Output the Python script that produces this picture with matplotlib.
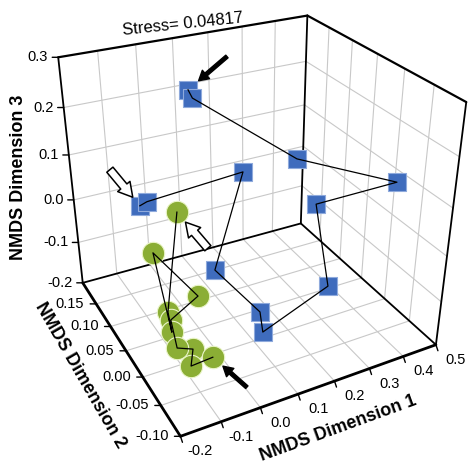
import numpy as np
import matplotlib
matplotlib.use('Agg')
import matplotlib.pyplot as plt

plt.rcParams['font.family'] = ['Liberation Sans', 'DejaVu Sans']

W, H = 474, 463

# Axis ranges and ticks
XL, YL, ZL = (-0.2, 0.5), (-0.1, 0.2), (-0.2, 0.3)
x_ticks = [-0.2, -0.1, 0.0, 0.1, 0.2, 0.3, 0.4, 0.5]
x_labels = ['-0.2', '-0.1', '0.0', '0.1', '0.2', '0.3', '0.4', '0.5']
y_ticks = [-0.10, -0.05, 0.00, 0.05, 0.10, 0.15]
y_labels = ['-0.10', '-0.05', '0.00', '0.05', '0.10', '0.15']
y_grid = [-0.10, -0.05, 0.00, 0.05, 0.10, 0.15, 0.20]
z_ticks = [-0.2, -0.1, 0.0, 0.1, 0.2, 0.3]
z_labels = ['-0.2', '-0.1', '0.0', '0.1', '0.2', '0.3']

# Blue series (squares), in path order: NMDS dims 1, 2, 3
blue_d1 = [0.061, 0.058, 0.274, 0.458, 0.291, 0.258, 0.085, 0.095, 0.027, 0.151, -0.092, -0.105]
blue_d2 = [0.120, 0.106, 0.046, -0.028, 0.015, -0.039, -0.034, -0.019, 0.029, 0.069, 0.084, 0.091]
blue_d3 = [0.248, 0.241, 0.125, 0.101, 0.051, -0.070, -0.135, -0.109, -0.049, 0.102, 0.073, 0.061]

# Green series (circles), in path order: NMDS dims 1, 2, 3
green_d1 = [-0.044, -0.099, -0.081, -0.116, -0.109, -0.030, -0.103, -0.115, -0.109, -0.022]
green_d2 = [-0.029, -0.027, -0.015, -0.009, 0.013, 0.019, 0.062, 0.005, 0.020, 0.077]
green_d3 = [-0.163, -0.170, -0.151, -0.146, -0.110, -0.083, -0.014, -0.127, -0.100, 0.043]

stress_text = 'Stress= 0.04817'

fig = plt.figure(figsize=(W/100, H/100), dpi=100)
ax = fig.add_axes([0.0284, 0.0478, 0.9743, 0.9975], projection='3d', computed_zorder=False)
ax.set_xlim(*XL); ax.set_ylim(*YL); ax.set_zlim(*ZL)
ax.set_axis_off()
ax.view_init(elev=29.4408, azim=-117.4939)
ax.set_proj_type('persp', focal_length=0.3669)
ax.set_box_aspect((1, 0.9628, 0.9421))
M = ax.get_proj()

x0, x1 = XL; y0, y1 = YL; z0, z1 = ZL

def seg(pa, pb, **kw):
    ax.plot([pa[0], pb[0]], [pa[1], pb[1]], [pa[2], pb[2]], **kw)

# grid on floor and back walls
gk = dict(color='#c8c8c8', lw=0.8, zorder=1)
for xv in x_ticks[1:-1]:
    seg((xv, y0, z0), (xv, y1, z0), **gk)
    seg((xv, y1, z0), (xv, y1, z1), **gk)
for yv in y_grid[1:-1]:
    seg((x0, yv, z0), (x1, yv, z0), **gk)
    seg((x1, yv, z0), (x1, yv, z1), **gk)
for zv in z_ticks[1:-1]:
    seg((x0, y1, zv), (x1, y1, zv), **gk)
    seg((x1, y1, zv), (x1, y0, zv), **gk)

# box edges
bk = dict(color='black', lw=1.3, zorder=1.5, solid_capstyle='round')
seg((x0, y1, z0), (x1, y1, z0), **bk); seg((x1, y1, z0), (x1, y0, z0), **bk)
seg((x0, y1, z0), (x0, y1, z1), **bk); seg((x1, y1, z0), (x1, y1, z1), **bk)
seg((x1, y0, z0), (x1, y0, z1), **bk)
tk_ = dict(color='black', lw=1.6, zorder=1.5, solid_capstyle='round')
seg((x0, y1, z1), (x1, y1, z1), **tk_); seg((x1, y1, z1), (x1, y0, z1), **tk_)
fk = dict(color='black', lw=2.0, zorder=1.6, solid_capstyle='round')
seg((x0, y0, z0), (x1, y0, z0), **fk); seg((x0, y0, z0), (x0, y1, z0), **fk)

# data
ax.scatter(green_d1, green_d2, green_d3, s=260, marker='o', c='#8bae35', edgecolors='#eaf5c8',
           linewidths=0.8, depthshade=False, zorder=2)
ax.scatter(blue_d1, blue_d2, blue_d3, s=175, marker='s', c='#3f6cbd', edgecolors='#8faadc',
           linewidths=0.8, depthshade=False, zorder=2.1)
ax.plot(green_d1, green_d2, green_d3, color='black', lw=0.9, zorder=3)
ax.plot(blue_d1, blue_d2, blue_d3, color='black', lw=0.9, zorder=3)

PT = 0.72
def p2(pt):
    h = M @ np.array([pt[0], pt[1], pt[2], 1.0])
    return (h[0]/h[3], h[1]/h[3])

# ticks and tick labels
tk = dict(arrowstyle='-', lw=1.0, shrinkA=0, shrinkB=0, color='black')
for zv, lab in zip(z_ticks, z_labels):
    xy = p2((x0, y1, zv))
    ax.annotate('', xy=xy, xytext=(-6*PT, 0), textcoords='offset points', arrowprops=tk, annotation_clip=False)
    ax.annotate(lab, xy=xy, xytext=(-10*PT, 0), textcoords='offset points', ha='right', va='center',
                fontsize=10.5, annotation_clip=False)
for yv, lab in zip(y_ticks, y_labels):
    xy = p2((x0, yv, z0))
    ax.annotate('', xy=xy, xytext=(-6*PT, 0), textcoords='offset points', arrowprops=tk, annotation_clip=False)
    ax.annotate(lab, xy=xy, xytext=(-12*PT, 0), textcoords='offset points', ha='right', va='center',
                fontsize=10.5, annotation_clip=False)
for xv, lab in zip(x_ticks, x_labels):
    xy = p2((xv, y0, z0))
    ax.annotate('', xy=xy, xytext=(2*PT, -6*PT), textcoords='offset points', arrowprops=tk, annotation_clip=False)
    ax.annotate(lab, xy=xy, xytext=(20*PT, -15*PT), textcoords='offset points', ha='center', va='center',
                fontsize=10.5, annotation_clip=False)

# start / end arrows
black_arrow = dict(arrowstyle='simple,head_length=0.5,head_width=0.57,tail_width=0.18',
                   fc='black', ec='black', mutation_scale=14, shrinkA=0)
white_arrow = dict(arrowstyle='simple,head_length=0.63,head_width=0.72,tail_width=0.36',
                   fc='white', ec='black', lw=1.1, mutation_scale=16, shrinkA=0)
ax.annotate('', xy=p2((blue_d1[0], blue_d2[0], blue_d3[0])), xytext=(28, 24), textcoords='offset points',
            arrowprops=dict(black_arrow, shrinkB=10), annotation_clip=False)
ax.annotate('', xy=p2((green_d1[0], green_d2[0], green_d3[0])), xytext=(24.5, -21.6), textcoords='offset points',
            arrowprops=dict(black_arrow, shrinkB=9.7), annotation_clip=False)
ax.annotate('', xy=p2((blue_d1[-1], blue_d2[-1], blue_d3[-1])), xytext=(-21.6, 26), textcoords='offset points',
            arrowprops=dict(white_arrow, shrinkB=8), annotation_clip=False)
ax.annotate('', xy=p2((green_d1[-1], green_d2[-1], green_d3[-1])), xytext=(22.3, -26), textcoords='offset points',
            arrowprops=dict(white_arrow, shrinkB=9.5), annotation_clip=False)

fig.text(19/W, 1-177/H, 'NMDS Dimension 3', rotation=90, ha='center', va='center', fontsize=13, fontweight='bold')
fig.text(80/W, 1-375/H, 'NMDS Dimension 2', rotation=-60, ha='center', va='center', fontsize=13, fontweight='bold')
fig.text(338/W, 1-428/H, 'NMDS Dimension 1', rotation=20, ha='center', va='center', fontsize=13, fontweight='bold')
fig.text(183/W, 1-24/H, stress_text, rotation=6, ha='center', va='center', fontsize=12)

fig.savefig('out.png', dpi=100)
